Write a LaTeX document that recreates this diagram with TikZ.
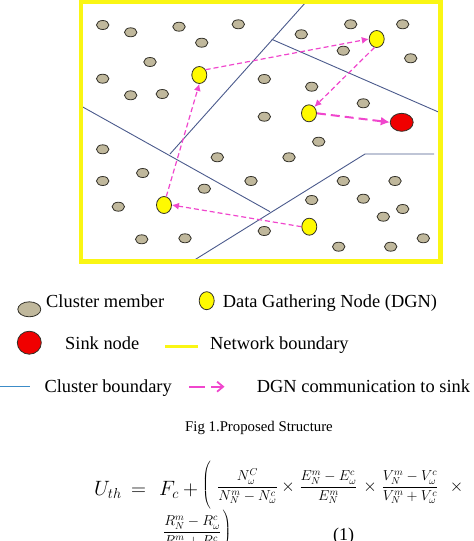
\documentclass[tikz,border=0pt]{standalone}
\usepackage{fontspec}
\setmainfont{Liberation Serif}
\usetikzlibrary{shapes.geometric,arrows.meta}
\definecolor{frameY}{RGB}{250,246,20}
\definecolor{memberFill}{RGB}{192,184,156}
\definecolor{nodeLine}{RGB}{50,48,40}
\definecolor{dgnY}{RGB}{255,250,0}
\definecolor{sinkR}{RGB}{240,0,0}
\definecolor{linkP}{RGB}{240,70,205}
\definecolor{bndDark}{RGB}{75,90,140}
\definecolor{bndLeg}{RGB}{60,140,200}
\tikzset{
  member/.style={ellipse,draw=nodeLine,fill=memberFill,line width=0.8pt,minimum width=12.5pt,minimum height=9pt,inner sep=0pt},
  dgn/.style={ellipse,draw=nodeLine,fill=dgnY,line width=0.8pt,minimum width=15pt,minimum height=17pt,inner sep=0pt},
  sink/.style={ellipse,draw=nodeLine,fill=sinkR,line width=0.8pt,minimum width=23pt,minimum height=18pt,inner sep=0pt},
  link/.style={draw=linkP,line width=1.2pt,dash pattern=on 5pt off 3pt,-{Latex[length=7pt,width=7pt]}},
  biglink/.style={draw=linkP,line width=2pt,dash pattern=on 9pt off 5pt,-{Latex[length=9pt,width=9pt]}},
  bnd/.style={draw=bndDark,line width=0.9pt},
  legtext/.style={anchor=base west,inner sep=0pt,font=\fontsize{18.4}{22}\selectfont},
  eqbig/.style={anchor=base,inner sep=0pt,font=\fontsize{20.5}{24}\selectfont},
  eqfrac/.style={anchor=base,inner sep=0pt,font=\fontsize{14.5}{18}\selectfont},
  eqtimes/.style={anchor=base,inner sep=0pt,font=\fontsize{17}{20}\selectfont},
}
\begin{document}
\begin{tikzpicture}[x=1pt,y=-1pt]
\useasboundingbox (0,0) rectangle (474,541);
\clip (0,0) rectangle (474,541);
% cluster boundaries
\draw[bnd] (306,2) -- (170,154);
\draw[bnd] (271.7,39.3) -- (440,112.7);
\draw[bnd] (81,106) -- (270,211.7);
\draw[bnd] (191.7,261.7) -- (365,154) -- (434,154);
% network boundary
\draw[frameY,line width=4.5pt] (81,2.2) rectangle (440.5,261.7);
% cluster members
\foreach \px/\py [count=\i] in {102.7/25,130.7/32.3,179/26.7,238.3/24.3,201.7/42.7,150/62,102.7/78.7,130.7/95.3,162.3/94,264.3/79,
  264.3/116.7,301.3/34.3,350.7/24.3,402.7/24.3,343.3/50.7,410.7/58.3,311.7/86.7,363.3/103.3,318.7/141.7,102.7/149.3,
  217.3/157.3,289/157.3,142.7/173,102.7/181,204.3/188.7,251/181,343.3/181,395/181,118.3/206.7,311.7/200,
  363.3/198.7,402.7/209,383.3/216.7,141.7/239.3,185/238.3,264.3/231,338.7/246.7,390.7/246.7,423.3/238.3}
  \node[member] (m\i) at (\px,\py) {};
% data gathering nodes and sink
\node[dgn] (Y1) at (199.3,75) {};
\node[dgn] (Y2) at (376.7,39) {};
\node[dgn] (Y3) at (309,113.3) {};
\node[dgn] (Y4) at (164,205) {};
\node[dgn] (Y5) at (309.3,226.7) {};
\node[sink] (S) at (401.7,122.3) {};
% DGN communication
\draw[link] (Y1.40) -- (Y2.west);
\draw[link] (Y2.255) -- (Y3.50);
\draw[biglink] (Y3.east) -- (S.west);
\draw[link] (Y5.west) -- (Y4.east);
\draw[link] (Y4.75) -- (Y1.south);
% legend
\node[member,minimum width=23pt,minimum height=15pt] (lm) at (29.3,309.3) {};
\node[legtext] (tm) at (46,307) {Cluster member};
\node[dgn,minimum width=15pt,minimum height=18pt] (ld) at (206.7,300.7) {};
\node[legtext] (td) at (222.7,307) {Data Gathering Node (DGN)};
\node[sink,minimum width=24pt,minimum height=23pt] (ls) at (29.3,342.7) {};
\node[legtext] (ts) at (65,349) {Sink node};
\coordinate (ny1) at (165,346);
\coordinate (ny2) at (198.3,346);
\draw[frameY,line width=3pt] (ny1) -- (ny2);
\node[legtext] (tn) at (210,349) {Network boundary};
\coordinate (cb1) at (0,386.7);
\coordinate (cb2) at (30,386.7);
\draw[bndLeg,line width=1.5pt] (cb1) -- (cb2);
\node[legtext] (tc) at (44.3,392.5) {Cluster boundary};
\coordinate (pa1) at (189.3,386.7);
\coordinate (pa2) at (205,386.7);
\coordinate (pa3) at (211,386.7);
\coordinate (pa4) at (224.5,386.7);
\draw[linkP,line width=1.8pt] (pa1) -- (pa2);
\draw[linkP,line width=1.8pt,-{Straight Barb[length=6pt,width=10pt]}] (pa3) -- (pa4);
\node[legtext] (tg) at (256.7,392.5) {DGN communication to sink};
% caption
\node[anchor=base,inner sep=0pt,font=\fontsize{14.8}{18}\selectfont] (cap) at (259,431.7) {Fig 1.Proposed Structure};
% equation, line 1
\node[eqbig,anchor=base west] (eU) at (94,495) {$U_{th}$};
\node[eqbig] (eEq) at (138.5,495) {$=$};
\node[eqbig,anchor=base west] (eF) at (159,495) {$F_c$};
\node[eqbig] (ePl) at (190.5,495) {$+$};
\node[eqbig] (eLp) at (207,490) {$\left(\vrule height 21pt depth 21pt width 0pt\right.$};
\node[eqfrac] (f1) at (247.5,490.3) {$\displaystyle\frac{N^C_\omega}{N^m_N-N^c_\omega}$};
\node[eqtimes] (x1) at (288,491) {$\times$};
\node[eqfrac] (f2) at (328.5,490.3) {$\displaystyle\frac{E^m_N-E^c_\omega}{E^m_N}$};
\node[eqtimes] (x2) at (370,491) {$\times$};
\node[eqfrac] (f3) at (410,490.3) {$\displaystyle\frac{V^m_N-V^c_\omega}{V^m_N+V^c_\omega}$};
\node[eqtimes] (x3) at (456.5,491) {$\times$};
% equation, line 2
\node[eqfrac] (f4) at (192.2,535.3) {$\displaystyle\frac{R^m_N-R^c_\omega}{R^m_N+R^c_\omega}$};
\node[eqbig] (eRp) at (226.5,536.5) {$\left.\vrule height 17pt depth 17pt width 0pt\right)$};
\node[anchor=base west,inner sep=0pt,font=\fontsize{18}{22}\selectfont] (eqn) at (333,540) {(1)};
\end{tikzpicture}
\end{document}
